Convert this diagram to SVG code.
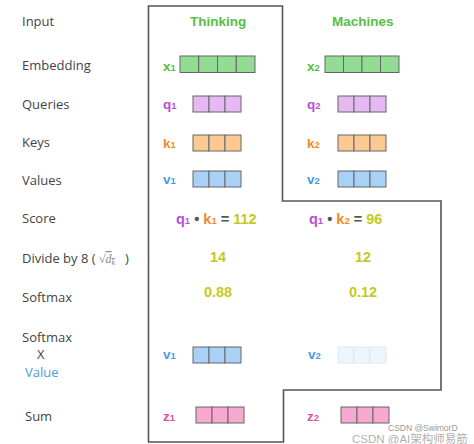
<svg xmlns="http://www.w3.org/2000/svg" width="474" height="444" viewBox="0 0 474 444">
<style>
.lbl{font-family:"Open Sans","Liberation Sans",sans-serif;font-size:13px;fill:#444}
.t{font-family:"Liberation Sans",Arial,sans-serif;font-weight:bold;font-size:13.5px}
.s{font-size:14.5px}
.sub{font-size:9.5px}
.g{fill:#55c043}.p{fill:#b84fd8}.o{fill:#f28a26}.b{fill:#4a9be0}.k{fill:#e0509a}.y{fill:#c5c91c}.d{fill:#555}
.cg{fill:#93dc93;stroke:#666;stroke-width:1}
.cp{fill:#e6b9f2;stroke:#666;stroke-width:1}
.co{fill:#fcc993;stroke:#666;stroke-width:1}
.cb{fill:#a9d1f6;stroke:#666;stroke-width:1}
.cf{fill:#eef5fd;stroke:#dde8f4;stroke-width:1}
.ck{fill:#f8a9d2;stroke:#666;stroke-width:1}
.wm{font-family:"Liberation Sans","Noto Sans CJK SC",sans-serif;fill:#999}
</style>
<rect width="474" height="444" fill="#fff"/>
<g id="frame">
<path d="M148.5 6 H282.5 V201 H441 V390 H283.5 V442 H148.5 Z" fill="none" stroke="#555" stroke-width="1.6"/>
</g>
<g id="row-labels">
<text class="lbl" x="22" y="26">Input</text>
<text class="lbl" x="22" y="70">Embedding</text>
<text class="lbl" x="22" y="109">Queries</text>
<text class="lbl" x="22" y="147">Keys</text>
<text class="lbl" x="22" y="185">Values</text>
<text class="lbl" x="22" y="223">Score</text>
<text class="lbl" x="22" y="263">Divide by 8 (</text>
<text x="99" y="263" font-family="Liberation Serif,serif" font-size="12" fill="#888">√<tspan font-style="italic" text-decoration="overline">d<tspan font-size="8" dy="2">k</tspan></tspan></text>
<text class="lbl" x="125" y="263">)</text>
<text class="lbl" x="22" y="302">Softmax</text>
<text class="lbl" x="22" y="342">Softmax</text>
<text class="lbl" x="37" y="359">X</text>
<text class="lbl" x="25" y="377" style="fill:#4a9be0">Value</text>
<text class="lbl" x="25" y="421">Sum</text>
</g>
<g id="word1">
<text class="t g" x="190" y="26">Thinking</text>
<text class="t g" x="163" y="71">x<tspan class="sub">1</tspan></text>
<g><rect class="cg" x="180" y="56" width="18.75" height="16.5"/><rect class="cg" x="198.75" y="56" width="18.75" height="16.5"/><rect class="cg" x="217.5" y="56" width="18.75" height="16.5"/><rect class="cg" x="236.25" y="56" width="18.75" height="16.5"/></g>
<text class="t p" x="163" y="109">q<tspan class="sub">1</tspan></text>
<g><rect class="cp" x="193" y="96" width="16" height="16"/><rect class="cp" x="209" y="96" width="16" height="16"/><rect class="cp" x="225" y="96" width="16" height="16"/></g>
<text class="t o" x="163" y="148">k<tspan class="sub">1</tspan></text>
<g><rect class="co" x="193" y="135" width="16" height="16"/><rect class="co" x="209" y="135" width="16" height="16"/><rect class="co" x="225" y="135" width="16" height="16"/></g>
<text class="t b" x="163" y="184">v<tspan class="sub">1</tspan></text>
<g><rect class="cb" x="193" y="171" width="16" height="16"/><rect class="cb" x="209" y="171" width="16" height="16"/><rect class="cb" x="225" y="171" width="16" height="16"/></g>
<text class="t s" x="176" y="224"><tspan class="p">q<tspan class="sub">1</tspan></tspan><tspan class="d"> • </tspan><tspan class="o">k<tspan class="sub">1</tspan></tspan><tspan class="d"> = </tspan><tspan class="y">112</tspan></text>
<text class="t s y" x="218" y="262" text-anchor="middle">14</text>
<text class="t s y" x="218" y="297" text-anchor="middle">0.88</text>
<text class="t b" x="163" y="359">v<tspan class="sub">1</tspan></text>
<g><rect class="cb" x="193" y="347" width="16" height="16"/><rect class="cb" x="209" y="347" width="16" height="16"/><rect class="cb" x="225" y="347" width="16" height="16"/></g>
<text class="t k" x="163" y="421">z<tspan class="sub">1</tspan></text>
<g><rect class="ck" x="196" y="407" width="16" height="16"/><rect class="ck" x="212" y="407" width="16" height="16"/><rect class="ck" x="228" y="407" width="16" height="16"/></g>
</g>
<g id="word2">
<text class="t g" x="332" y="26">Machines</text>
<text class="t g" x="307" y="71">x<tspan class="sub">2</tspan></text>
<g><rect class="cg" x="325" y="56" width="18.5" height="16.5"/><rect class="cg" x="343.5" y="56" width="18.5" height="16.5"/><rect class="cg" x="362" y="56" width="18.5" height="16.5"/><rect class="cg" x="380.5" y="56" width="18.5" height="16.5"/></g>
<text class="t p" x="307" y="109">q<tspan class="sub">2</tspan></text>
<g><rect class="cp" x="338" y="96" width="16" height="16"/><rect class="cp" x="354" y="96" width="16" height="16"/><rect class="cp" x="370" y="96" width="16" height="16"/></g>
<text class="t o" x="307" y="148">k<tspan class="sub">2</tspan></text>
<g><rect class="co" x="338" y="135" width="16" height="16"/><rect class="co" x="354" y="135" width="16" height="16"/><rect class="co" x="370" y="135" width="16" height="16"/></g>
<text class="t b" x="307" y="184">v<tspan class="sub">2</tspan></text>
<g><rect class="cb" x="338" y="171" width="16" height="16"/><rect class="cb" x="354" y="171" width="16" height="16"/><rect class="cb" x="370" y="171" width="16" height="16"/></g>
<text class="t s" x="309" y="224"><tspan class="p">q<tspan class="sub">1</tspan></tspan><tspan class="d"> • </tspan><tspan class="o">k<tspan class="sub">2</tspan></tspan><tspan class="d"> = </tspan><tspan class="y">96</tspan></text>
<text class="t s y" x="363" y="262" text-anchor="middle">12</text>
<text class="t s y" x="363" y="297" text-anchor="middle">0.12</text>
<text class="t b" x="308" y="359">v<tspan class="sub">2</tspan></text>
<g><rect class="cf" x="338" y="347" width="16" height="16"/><rect class="cf" x="354" y="347" width="16" height="16"/><rect class="cf" x="370" y="347" width="16" height="16"/></g>
<text class="t k" x="307" y="421">z<tspan class="sub">2</tspan></text>
<g><rect class="ck" x="341" y="407" width="16" height="16"/><rect class="ck" x="357" y="407" width="16" height="16"/><rect class="ck" x="373" y="407" width="16" height="16"/></g>
</g>
<g id="watermark">
<text class="wm" x="388" y="431" font-size="8.5">CSDN @SwimorD</text>
<text class="wm" x="352" y="443" font-size="11.5" fill-opacity="0.8">CSDN @AI架构师易筋</text>
</g>
</svg>
